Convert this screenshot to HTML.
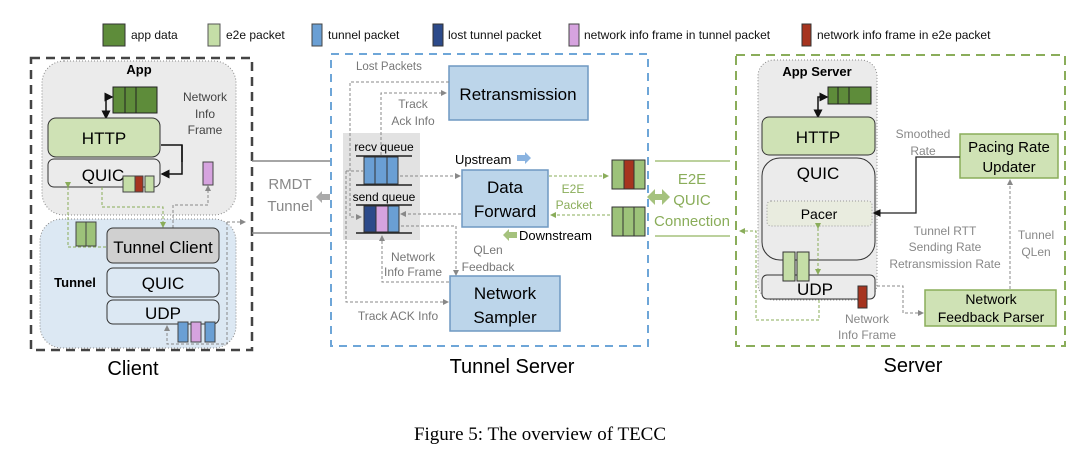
<!DOCTYPE html>
<html><head><meta charset="utf-8"><style>
html,body{margin:0;padding:0;background:#fff;}
svg{display:block;font-family:"Liberation Sans",sans-serif;}
</style></head><body>
<svg width="1080" height="451" viewBox="0 0 1080 451" xmlns="http://www.w3.org/2000/svg">
<defs>
<marker id="ag" markerWidth="6" markerHeight="6" refX="5" refY="3" orient="auto"><path d="M0,0 L6,3 L0,6z" fill="#888"/></marker>
<marker id="agr" markerWidth="6" markerHeight="6" refX="5" refY="3" orient="auto"><path d="M0,0 L6,3 L0,6z" fill="#8aad5a"/></marker>
<marker id="ak" markerWidth="6" markerHeight="6" refX="5" refY="3" orient="auto"><path d="M0,0 L6,3 L0,6z" fill="#111"/></marker>
<marker id="aks" markerWidth="6" markerHeight="6" refX="1" refY="3" orient="auto"><path d="M6,0 L0,3 L6,6z" fill="#111"/></marker>
</defs>

<g font-size="12" fill="#111">
<rect x="103" y="24" width="22" height="22" fill="#5e8c3a" stroke="#333"/><text x="131" y="39">app data</text>
<rect x="208" y="24" width="12" height="22" fill="#c5dea7" stroke="#555"/><text x="226" y="39">e2e packet</text>
<rect x="312" y="24" width="10" height="22" fill="#6a9fd4" stroke="#444"/><text x="328" y="39">tunnel packet</text>
<rect x="433" y="24" width="10" height="22" fill="#2c4a8a" stroke="#333"/><text x="448" y="39">lost tunnel packet</text>
<rect x="569" y="24" width="10" height="22" fill="#d6a3df" stroke="#444"/><text x="584" y="39">network info frame in tunnel packet</text>
<rect x="802" y="24" width="9" height="22" fill="#a6341f" stroke="#333"/><text x="817" y="39">network info frame in e2e packet</text>
</g>

<rect x="31" y="58" width="221" height="292" fill="none" stroke="#444" stroke-width="2.5" stroke-dasharray="9,6"/>
<rect x="42" y="61" width="194" height="154" rx="22" fill="#ebebeb" stroke="#888" stroke-dasharray="1,2"/>
<text x="139" y="74" font-size="13" font-weight="bold" text-anchor="middle">App</text>
<rect x="113" y="87" width="44" height="26" fill="#5e8c3a" stroke="#222"/>
<line x1="125" y1="87" x2="125" y2="113" stroke="#222"/><line x1="136" y1="87" x2="136" y2="113" stroke="#222"/>
<path d="M106,118 V97 H112" fill="none" stroke="#111" stroke-width="1.5" marker-end="url(#ak)" marker-start="url(#aks)"/>
<text font-size="12" fill="#444" text-anchor="middle"><tspan x="205" y="101">Network</tspan><tspan x="205" y="118">Info</tspan><tspan x="205" y="134">Frame</tspan></text>
<rect x="48" y="118" width="112" height="39" rx="8" fill="#cfe2b5" stroke="#333"/>
<text x="104" y="144" font-size="17" text-anchor="middle">HTTP</text>
<rect x="48" y="159" width="112" height="28" rx="6" fill="#ebebeb" stroke="#333"/>
<text x="103" y="181" font-size="17" text-anchor="middle">QUIC</text>
<path d="M182,162 V145 H161" fill="none" stroke="#111" stroke-width="1.5"/>
<path d="M182,145 V174 H162" fill="none" stroke="#111" stroke-width="1.5" marker-end="url(#ak)"/>
<rect x="203" y="162" width="10" height="23" fill="#d6a3df" stroke="#444"/>
<rect x="123" y="176" width="12" height="16" fill="#c5dea7" stroke="#444"/>
<rect x="135" y="176" width="8" height="16" fill="#a6341f" stroke="#444"/>
<rect x="145" y="176" width="9" height="16" fill="#c5dea7" stroke="#444"/>
<rect x="40" y="219" width="196" height="129" rx="22" fill="#dce8f3" stroke="#888" stroke-dasharray="1,2"/>
<rect x="76" y="222" width="20" height="24" fill="#9dc27a" stroke="#444"/><line x1="86" y1="222" x2="86" y2="246" stroke="#444"/>
<path d="M68,187 V247 H107" fill="none" stroke="#8aad5a" stroke-dasharray="3,2" marker-start="url(#agr)"/>
<path d="M102,187 V207 H163 V227" fill="none" stroke="#8aad5a" stroke-dasharray="3,2" marker-end="url(#agr)"/>
<path d="M173,228 V205 H208 V186" fill="none" stroke="#888" stroke-dasharray="3,2" marker-end="url(#ag)"/>
<rect x="107" y="228" width="112" height="35" rx="6" fill="#d0d0d0" stroke="#333"/>
<text x="163" y="253" font-size="17" text-anchor="middle">Tunnel Client</text>
<text x="75" y="287" font-size="13" font-weight="bold" text-anchor="middle">Tunnel</text>
<rect x="107" y="268" width="112" height="29" rx="6" fill="#dce8f3" stroke="#333"/>
<text x="163" y="289" font-size="17" text-anchor="middle">QUIC</text>
<rect x="107" y="300" width="112" height="24" rx="6" fill="#dce8f3" stroke="#333"/>
<text x="163" y="319" font-size="17" text-anchor="middle">UDP</text>
<rect x="178" y="322" width="10" height="20" fill="#6a9fd4" stroke="#444"/>
<rect x="191" y="322" width="10" height="20" fill="#d6a3df" stroke="#444"/>
<rect x="205" y="322" width="10" height="20" fill="#6a9fd4" stroke="#444"/>
<path d="M227,222 V344 H167 V326" fill="none" stroke="#888" stroke-dasharray="3,2" marker-end="url(#ag)"/>
<path d="M227,222 H245" fill="none" stroke="#888" stroke-dasharray="3,2" marker-end="url(#ag)"/>
<text x="133" y="375" font-size="20" text-anchor="middle">Client</text>

<line x1="252" y1="161" x2="330" y2="161" stroke="#888" stroke-width="1.5"/>
<line x1="252" y1="233" x2="330" y2="233" stroke="#888" stroke-width="1.5"/>
<text font-size="15" fill="#888" text-anchor="middle"><tspan x="290" y="189">RMDT</tspan><tspan x="290" y="211">Tunnel</tspan></text>
<path d="M316,197 L322,191 V194 H330 V200 H322 V203z" fill="#aaa"/>

<rect x="331" y="54" width="317" height="292" fill="none" stroke="#6ea6d8" stroke-width="2" stroke-dasharray="8,6"/>
<rect x="343" y="133" width="77" height="107" fill="#e2e2e2"/>
<text x="356" y="70" font-size="11.5" fill="#777">Lost Packets</text>
<rect x="449" y="66" width="139" height="54" fill="#bcd5ea" stroke="#6f98c2" stroke-width="1.5"/>
<text x="518" y="100" font-size="17" text-anchor="middle">Retransmission</text>
<path d="M449,82 H350 V217 H361" fill="none" stroke="#888" stroke-dasharray="3,2" marker-end="url(#ag)"/>
<path d="M381,155 V93 H446" fill="none" stroke="#888" stroke-dasharray="3,2" marker-end="url(#ag)"/>
<text font-size="12" fill="#777" text-anchor="middle"><tspan x="413" y="108">Track</tspan><tspan x="413" y="125">Ack Info</tspan></text>
<text x="384" y="151" font-size="12" text-anchor="middle">recv queue</text>
<line x1="356" y1="156" x2="412" y2="156" stroke="#222" stroke-width="1.5"/>
<line x1="356" y1="185" x2="412" y2="185" stroke="#222" stroke-width="1.5"/>
<rect x="364" y="157" width="11" height="27" fill="#6a9fd4" stroke="#333"/>
<rect x="375" y="157" width="12" height="27" fill="#6a9fd4" stroke="#333"/>
<rect x="387" y="157" width="11" height="27" fill="#6a9fd4" stroke="#333"/>
<text x="384" y="201" font-size="12" text-anchor="middle">send queue</text>
<line x1="356" y1="205" x2="412" y2="205" stroke="#222" stroke-width="1.5"/>
<line x1="356" y1="233" x2="412" y2="233" stroke="#222" stroke-width="1.5"/>
<rect x="364" y="206" width="12" height="26" fill="#2c4a8a" stroke="#333"/>
<rect x="376" y="206" width="12" height="26" fill="#d6a3df" stroke="#333"/>
<rect x="388" y="206" width="11" height="26" fill="#6a9fd4" stroke="#333"/>
<path d="M346,171 V302 H448" fill="none" stroke="#888" stroke-dasharray="3,2" marker-end="url(#ag)"/>
<path d="M346,171 H363" fill="none" stroke="#888" stroke-dasharray="3,2"/>
<path d="M400,176 H460" fill="none" stroke="#888" stroke-dasharray="3,2" marker-end="url(#ag)"/>
<path d="M461,214 H401" fill="none" stroke="#888" stroke-dasharray="3,2" marker-end="url(#ag)"/>
<path d="M401,226 H456 V275" fill="none" stroke="#888" stroke-dasharray="3,2" marker-end="url(#ag)"/>
<path d="M449,282 H382 V236" fill="none" stroke="#888" stroke-dasharray="3,2" marker-end="url(#ag)"/>
<text x="455" y="164" font-size="13">Upstream</text>
<path d="M517,155 H525 V152 L531,158 L525,164 V161 H517z" fill="#8ab3e0"/>
<rect x="462" y="170" width="86" height="57" fill="#bcd5ea" stroke="#6f98c2" stroke-width="1.5"/>
<text font-size="17" text-anchor="middle"><tspan x="505" y="193">Data</tspan><tspan x="505" y="217">Forward</tspan></text>
<path d="M503,235 L509,229 V232 H517 V238 H509 V241z" fill="#a5c27d"/>
<text x="519" y="240" font-size="13">Downstream</text>
<text font-size="12" fill="#8aad5a" text-anchor="middle"><tspan x="573" y="193">E2E</tspan><tspan x="574" y="209">Packet</tspan></text>
<path d="M549,176 H608" fill="none" stroke="#8aad5a" stroke-dasharray="3,2" marker-end="url(#agr)"/>
<path d="M610,215 H551" fill="none" stroke="#8aad5a" stroke-dasharray="3,2" marker-end="url(#agr)"/>
<rect x="612" y="160" width="12" height="29" fill="#9dc27a" stroke="#333"/>
<rect x="624" y="160" width="10" height="29" fill="#a6341f" stroke="#333"/>
<rect x="634" y="160" width="11" height="29" fill="#9dc27a" stroke="#333"/>
<rect x="612" y="207" width="11" height="29" fill="#9dc27a" stroke="#333"/>
<rect x="623" y="207" width="11" height="29" fill="#9dc27a" stroke="#333"/>
<rect x="634" y="207" width="11" height="29" fill="#9dc27a" stroke="#333"/>
<text font-size="12" fill="#777" text-anchor="middle"><tspan x="413" y="261">Network</tspan><tspan x="413" y="276">Info Frame</tspan></text>
<text font-size="12" fill="#777" text-anchor="middle"><tspan x="488" y="254">QLen</tspan><tspan x="488" y="271">Feedback</tspan></text>
<rect x="450" y="276" width="110" height="55" fill="#bcd5ea" stroke="#6f98c2" stroke-width="1.5"/>
<text font-size="17" text-anchor="middle"><tspan x="505" y="299">Network</tspan><tspan x="505" y="323">Sampler</tspan></text>
<text x="398" y="320" font-size="12" fill="#777" text-anchor="middle">Track ACK Info</text>
<text x="512" y="373" font-size="20" text-anchor="middle">Tunnel Server</text>

<line x1="655" y1="161" x2="730" y2="161" stroke="#a5c27d" stroke-width="1.5"/>
<line x1="655" y1="236" x2="730" y2="236" stroke="#a5c27d" stroke-width="1.5"/>
<path d="M647,197 L655,189 V194 H662 V189 L670,197 L662,205 V200 H655 V205z" fill="#a5c27d"/>
<text font-size="15" fill="#8aad5a" text-anchor="middle"><tspan x="692" y="184">E2E</tspan><tspan x="692" y="205">QUIC</tspan><tspan x="692" y="226">Connection</tspan></text>

<rect x="736" y="55" width="329" height="291" fill="none" stroke="#8aad5a" stroke-width="2" stroke-dasharray="9,6"/>
<rect x="758" y="60" width="119" height="240" rx="16" fill="#ebebeb" stroke="#888" stroke-dasharray="1,2"/>
<text x="817" y="76" font-size="13" font-weight="bold" text-anchor="middle">App Server</text>
<rect x="828" y="87" width="43" height="17" fill="#5e8c3a" stroke="#222"/>
<line x1="838" y1="87" x2="838" y2="104" stroke="#222"/><line x1="849" y1="87" x2="849" y2="104" stroke="#222"/>
<path d="M818,117 V97 H827" fill="none" stroke="#111" stroke-width="1.5" marker-end="url(#ak)" marker-start="url(#aks)"/>
<rect x="762" y="117" width="113" height="38" rx="7" fill="#cfe2b5" stroke="#333"/>
<text x="818" y="143" font-size="17" text-anchor="middle">HTTP</text>
<rect x="762" y="158" width="113" height="102" rx="18" fill="#ebebeb" stroke="#333"/>
<text x="818" y="179" font-size="17" text-anchor="middle">QUIC</text>
<rect x="767" y="201" width="105" height="25" rx="4" fill="#e9ecdf" stroke="#999" stroke-dasharray="1,2"/>
<text x="819" y="219" font-size="14" text-anchor="middle">Pacer</text>
<rect x="762" y="275" width="113" height="24" rx="5" fill="#ebebeb" stroke="#333"/>
<text x="815" y="295" font-size="17" text-anchor="middle">UDP</text>
<rect x="783" y="252" width="12" height="29" fill="#c5dea7" stroke="#333"/>
<rect x="797" y="252" width="12" height="29" fill="#c5dea7" stroke="#333"/>
<rect x="858" y="286" width="9" height="22" fill="#a6341f" stroke="#333"/>
<path d="M818,228 V274" fill="none" stroke="#8aad5a" stroke-dasharray="3,2" marker-end="url(#agr)" marker-start="url(#agr)"/>
<path d="M819,300 V320 H756 V231 H740" fill="none" stroke="#8aad5a" stroke-dasharray="3,2" marker-end="url(#agr)"/>
<path d="M877,286 H903 V313 H923" fill="none" stroke="#888" stroke-dasharray="3,2" marker-end="url(#ag)"/>
<rect x="960" y="134" width="98" height="44" fill="#cfe2b5" stroke="#8aad5a" stroke-width="1.5"/>
<text font-size="15" text-anchor="middle"><tspan x="1009" y="152">Pacing Rate</tspan><tspan x="1009" y="172">Updater</tspan></text>
<path d="M960,157 H916 V213 H874" fill="none" stroke="#222" stroke-width="1.3" marker-end="url(#ak)"/>
<text font-size="12" fill="#888" text-anchor="middle"><tspan x="923" y="138">Smoothed</tspan><tspan x="923" y="155">Rate</tspan></text>
<text font-size="12" fill="#888" text-anchor="middle"><tspan x="945" y="235">Tunnel RTT</tspan><tspan x="945" y="251">Sending Rate</tspan><tspan x="945" y="268">Retransmission Rate</tspan></text>
<text font-size="12" fill="#888" text-anchor="middle"><tspan x="1036" y="239">Tunnel</tspan><tspan x="1036" y="256">QLen</tspan></text>
<path d="M1010,289 V180" fill="none" stroke="#888" stroke-dasharray="3,2" marker-end="url(#ag)"/>
<rect x="925" y="290" width="131" height="36" fill="#cfe2b5" stroke="#8aad5a" stroke-width="1.5"/>
<text font-size="14" text-anchor="middle"><tspan x="991" y="304">Network</tspan><tspan x="991" y="322">Feedback Parser</tspan></text>
<text font-size="12" fill="#888" text-anchor="middle"><tspan x="867" y="323">Network</tspan><tspan x="867" y="339">Info Frame</tspan></text>
<text x="913" y="372" font-size="20" text-anchor="middle">Server</text>

<text x="540" y="440" font-size="19" font-family="Liberation Serif,serif" text-anchor="middle">Figure 5: The overview of TECC</text>
</svg>
</body></html>
